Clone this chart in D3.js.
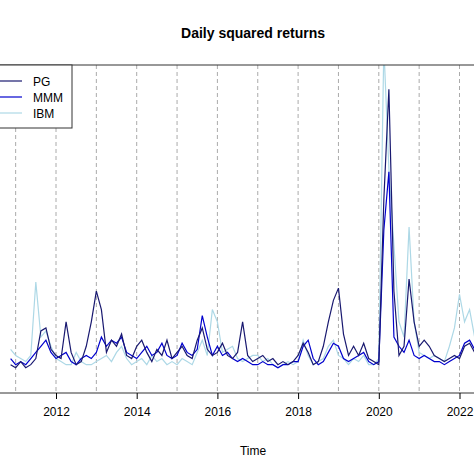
<!DOCTYPE html>
<meta charset="utf-8">
<title>Daily squared returns</title>
<style>
body { margin: 0; background: #fff; }
text { font-family: "Liberation Sans", Arial, sans-serif; }
</style>
<body>
<div id="chart"></div>
<script src="https://d3js.org/d3.v7.min.js"></script>
<script>
  // eighth-of-a-year samples from 2010.875
  var start = 2010.875, step = 0.125;
  var pg = [6,
    5,7,5,6,8,17,18,11,   9,8,20,10,6,7,12,20,   30,24,10,14,12,16,9,8,
    12,14,10,7,11,9,14,8, 10,12,9,8,14,18,11,9,  10,13,9,8,10,20,9,7,
    8,9,7,8,6,7,6,7,      9,13,10,6,7,12,20,27,  31,16,9,12,9,13,8,7,
    6,60,96,30,9,12,34,20, 12,14,12,9,8,7,8,9,  8,12,13,10];
  var mmm = [8,
    6,7,6,8,10,12,14,10,  8,9,10,7,6,8,9,8,      10,15,12,14,13,15,10,9,
    8,10,12,9,10,13,9,8,  9,13,10,9,11,22,15,9,  12,9,10,8,7,8,7,6,
    6,7,6,6,5,6,6,7,      7,12,14,8,6,7,10,13,   12,8,7,8,9,10,7,6,
    7,50,69,15,12,10,14,9, 8,9,8,7,7,6,7,8,     9,13,14,11];
  var ibm = [11,
    9,8,7,9,33,15,17,12,  8,7,6,6,10,7,6,6,      7,8,9,7,10,12,8,6,
    7,8,6,9,7,8,6,7,      6,8,7,6,10,14,9,24,    20,10,11,12,8,7,8,9,
    9,7,8,6,5,6,7,6,      7,14,9,6,7,8,12,14,    9,8,6,8,7,9,6,6,
    8,110,70,45,20,15,51,20, 10,9,8,9,8,7,12,18, 29,20,24,15];
  var seriesNames = ["PG", "MMM", "IBM"];
  var colors = ["#191970", "#0000cd", "#add8e6"];
  var yearTicks = [2012, 2014, 2016, 2018, 2020, 2022];
  var gridYears = d3.range(2011, 2024);

  var W = 474, H = 474,
      plotTop = 65, plotBottom = 393, plotLeft = -40, plotRight = 520;

  var svg = d3.select("#chart").append("svg")
      .attr("width", W).attr("height", H);

  var x = d3.scaleLinear().domain([2010, 2012]).range([-24.7, 56]);
  var y = d3.scaleLinear().domain([0, 100]).range([plotBottom - 10, plotTop + 12]);

  svg.append("defs").append("clipPath").attr("id", "clip")
    .append("rect").attr("x", plotLeft).attr("y", plotTop)
    .attr("width", plotRight - plotLeft).attr("height", plotBottom - plotTop);

  svg.append("text").attr("x", 253).attr("y", 38)
    .attr("text-anchor", "middle").attr("font-weight", "bold")
    .attr("font-size", 14).text("Daily squared returns");

  svg.selectAll("line.grid").data(gridYears).enter().append("line")
    .attr("class", "grid")
    .attr("x1", d => x(d)).attr("x2", d => x(d))
    .attr("y1", plotTop).attr("y2", plotBottom)
    .attr("stroke", "#aaa").attr("stroke-dasharray", "4,3");

  var line = d3.line()
    .x((d, i) => x(start + i * step))
    .y(d => y(d));

  var g = svg.append("g").attr("clip-path", "url(#clip)");
  [ibm, mmm, pg].forEach(function(s, k) {
    g.append("path").datum(s)
      .attr("d", line).attr("fill", "none")
      .attr("stroke", colors[2 - k]).attr("stroke-width", 1.2);
  });

  svg.append("rect").attr("x", plotLeft).attr("y", plotTop)
    .attr("width", plotRight - plotLeft).attr("height", plotBottom - plotTop)
    .attr("fill", "none").attr("stroke", "#333");

  var xAxis = d3.axisBottom(x).tickValues(yearTicks)
    .tickFormat(d3.format("d")).tickSize(6).tickPadding(8);
  var ax = svg.append("g").attr("transform", "translate(0," + plotBottom + ")").call(xAxis);
  ax.select(".domain").remove();
  ax.selectAll("text").attr("font-size", 12).attr("fill", "#000");

  svg.append("text").attr("x", 253).attr("y", 455)
    .attr("text-anchor", "middle").attr("font-size", 12).text("Time");

  // legend
  var lg = svg.append("g");
  lg.append("rect").attr("x", -2).attr("y", plotTop).attr("width", 74).attr("height", 63)
    .attr("fill", "#fff").attr("stroke", "#333");
  seriesNames.forEach(function(n, i) {
    var ly = 81 + i * 16;
    lg.append("line").attr("x1", 0).attr("x2", 22).attr("y1", ly).attr("y2", ly)
      .attr("stroke", colors[i]).attr("stroke-width", 1.2);
    lg.append("text").attr("x", 33).attr("y", ly + 4.5)
      .attr("font-size", 12).text(n);
  });
</script>
</body>
</html>
